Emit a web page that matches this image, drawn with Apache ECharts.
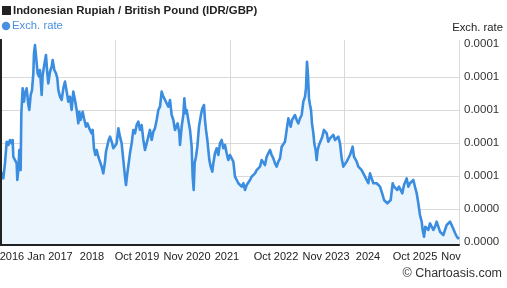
<!DOCTYPE html>
<html><head><meta charset="utf-8">
<script src="https://cdn.jsdelivr.net/npm/echarts@6/dist/echarts.min.js"></script>
<style>html,body{margin:0;padding:0;background:#fff}#c{width:507px;height:288px}</style>
</head><body><div id="c"></div>
<script>
// Decimal-year positions of the readings
const years = [
 2015.880, 2015.931, 2015.967, 2016.004, 2016.040, 2016.076, 2016.113, 2016.135, 2016.149, 2016.186,
 2016.222, 2016.236, 2016.258, 2016.280, 2016.309, 2016.324, 2016.353, 2016.382, 2016.404, 2016.440,
 2016.477, 2016.498, 2016.528, 2016.557, 2016.586, 2016.600, 2016.622, 2016.659, 2016.680, 2016.710,
 2016.731, 2016.768, 2016.790, 2016.819, 2016.862, 2016.891, 2016.913, 2016.950, 2016.986, 2017.008,
 2017.044, 2017.081, 2017.110, 2017.132, 2017.168, 2017.204, 2017.241, 2017.277, 2017.314, 2017.350,
 2017.386, 2017.423, 2017.459, 2017.496, 2017.532, 2017.568, 2017.590, 2017.619, 2017.663, 2017.692,
 2017.736, 2017.765, 2017.808, 2017.838, 2017.859, 2017.881, 2017.910, 2017.940, 2017.969, 2018.005,
 2018.041, 2018.078, 2018.114, 2018.151, 2018.172, 2018.201, 2018.231, 2018.260, 2018.296, 2018.333,
 2018.369, 2018.405, 2018.442, 2018.478, 2018.514, 2018.551, 2018.587, 2018.609, 2018.638, 2018.667,
 2018.696, 2018.733, 2018.769, 2018.806, 2018.842, 2018.878, 2018.915, 2018.951, 2018.988, 2019.024,
 2019.060, 2019.097, 2019.133, 2019.170, 2019.206, 2019.242, 2019.279, 2019.315, 2019.352, 2019.388,
 2019.424, 2019.461, 2019.497, 2019.533, 2019.570, 2019.606, 2019.643, 2019.679, 2019.701, 2019.737,
 2019.774, 2019.788, 2019.825, 2019.861, 2019.883, 2019.912, 2019.934, 2019.970, 2020.007, 2020.043,
 2020.065, 2020.087, 2020.108, 2020.137, 2020.167, 2020.203, 2020.239, 2020.276, 2020.312, 2020.334,
 2020.356, 2020.385, 2020.429, 2020.458, 2020.494, 2020.516, 2020.552, 2020.589, 2020.625, 2020.661,
 2020.698, 2020.734, 2020.771, 2020.807, 2020.843, 2020.880, 2020.916, 2020.953, 2020.989, 2021.025,
 2021.062, 2021.098, 2021.135, 2021.171, 2021.207, 2021.244, 2021.280, 2021.317, 2021.353, 2021.389,
 2021.426, 2021.462, 2021.499, 2021.535, 2021.571, 2021.608, 2021.644, 2021.681, 2021.717, 2021.753,
 2021.790, 2021.826, 2021.863, 2021.899, 2021.935, 2021.972, 2022.008, 2022.045, 2022.081, 2022.117,
 2022.154, 2022.175, 2022.205, 2022.234, 2022.263, 2022.299, 2022.336, 2022.372, 2022.408, 2022.445,
 2022.481, 2022.518, 2022.539, 2022.561, 2022.583, 2022.605, 2022.627, 2022.649, 2022.670, 2022.700,
 2022.721, 2022.750, 2022.772, 2022.794, 2022.823, 2022.860, 2022.896, 2022.932, 2022.969, 2022.991,
 2023.027, 2023.063, 2023.100, 2023.136, 2023.173, 2023.209, 2023.245, 2023.282, 2023.318, 2023.355,
 2023.391, 2023.427, 2023.464, 2023.500, 2023.537, 2023.558, 2023.587, 2023.624, 2023.646, 2023.682,
 2023.718, 2023.755, 2023.791, 2023.828, 2023.864, 2023.900, 2023.937, 2023.973, 2024.010, 2024.046,
 2024.082, 2024.119, 2024.155, 2024.192, 2024.213, 2024.243, 2024.279, 2024.315, 2024.352, 2024.388,
 2024.410, 2024.432, 2024.461, 2024.497, 2024.533, 2024.570, 2024.606, 2024.643, 2024.679, 2024.715,
 2024.737, 2024.774, 2024.810, 2024.847, 2024.883, 2024.919, 2024.956, 2024.992, 2025.028, 2025.065,
 2025.087, 2025.116, 2025.145, 2025.174, 2025.210, 2025.247, 2025.283, 2025.320, 2025.356, 2025.392,
 2025.429, 2025.465, 2025.502, 2025.538, 2025.574, 2025.611, 2025.647, 2025.684, 2025.705, 2025.749,
 2025.793, 2025.837, 2025.880
];
// IDR/GBP exchange rate readings
const rates = [
 5.033e-5, 4.982e-5, 5.096e-5, 5.260e-5, 5.235e-5, 5.273e-5, 5.247e-5, 5.273e-5, 5.146e-5, 5.134e-5,
 5.096e-5, 4.970e-5, 5.045e-5, 5.197e-5, 5.045e-5, 5.475e-5, 5.664e-5, 5.563e-5, 5.626e-5, 5.664e-5,
 5.538e-5, 5.500e-5, 5.614e-5, 5.651e-5, 5.778e-5, 5.929e-5, 5.992e-5, 5.980e-5, 5.778e-5, 5.753e-5,
 5.803e-5, 5.614e-5, 5.765e-5, 5.828e-5, 5.917e-5, 5.778e-5, 5.702e-5, 5.790e-5, 5.828e-5, 5.879e-5,
 5.803e-5, 5.778e-5, 5.740e-5, 5.651e-5, 5.601e-5, 5.576e-5, 5.664e-5, 5.715e-5, 5.639e-5, 5.563e-5,
 5.601e-5, 5.500e-5, 5.639e-5, 5.576e-5, 5.500e-5, 5.399e-5, 5.487e-5, 5.424e-5, 5.487e-5, 5.437e-5,
 5.374e-5, 5.399e-5, 5.361e-5, 5.374e-5, 5.323e-5, 5.349e-5, 5.210e-5, 5.159e-5, 5.197e-5, 5.146e-5,
 5.109e-5, 5.071e-5, 5.020e-5, 5.109e-5, 5.184e-5, 5.197e-5, 5.273e-5, 5.298e-5, 5.260e-5, 5.210e-5,
 5.222e-5, 5.247e-5, 5.361e-5, 5.298e-5, 5.247e-5, 5.121e-5, 4.995e-5, 4.932e-5, 5.020e-5, 5.096e-5,
 5.172e-5, 5.247e-5, 5.349e-5, 5.323e-5, 5.386e-5, 5.412e-5, 5.349e-5, 5.386e-5, 5.273e-5, 5.197e-5,
 5.247e-5, 5.298e-5, 5.349e-5, 5.273e-5, 5.336e-5, 5.361e-5, 5.424e-5, 5.500e-5, 5.525e-5, 5.639e-5,
 5.601e-5, 5.576e-5, 5.588e-5, 5.525e-5, 5.576e-5, 5.462e-5, 5.424e-5, 5.349e-5, 5.361e-5, 5.399e-5,
 5.323e-5, 5.235e-5, 5.374e-5, 5.462e-5, 5.588e-5, 5.475e-5, 5.500e-5, 5.424e-5, 5.349e-5, 5.222e-5,
 4.995e-5, 4.894e-5, 5.096e-5, 5.146e-5, 5.222e-5, 5.374e-5, 5.450e-5, 5.513e-5, 5.538e-5, 5.424e-5,
 5.349e-5, 5.273e-5, 5.121e-5, 5.071e-5, 5.033e-5, 5.096e-5, 5.172e-5, 5.210e-5, 5.159e-5, 5.247e-5,
 5.273e-5, 5.210e-5, 5.235e-5, 5.172e-5, 5.121e-5, 5.159e-5, 5.134e-5, 5.109e-5, 4.995e-5, 4.982e-5,
 4.945e-5, 4.957e-5, 4.919e-5, 4.945e-5, 4.894e-5, 4.932e-5, 4.945e-5, 4.970e-5, 4.995e-5, 4.982e-5,
 5.020e-5, 5.045e-5, 5.033e-5, 5.071e-5, 5.121e-5, 5.109e-5, 5.083e-5, 5.146e-5, 5.172e-5, 5.197e-5,
 5.159e-5, 5.134e-5, 5.096e-5, 5.071e-5, 5.109e-5, 5.134e-5, 5.222e-5, 5.235e-5, 5.260e-5, 5.349e-5,
 5.437e-5, 5.450e-5, 5.374e-5, 5.424e-5, 5.412e-5, 5.462e-5, 5.424e-5, 5.399e-5, 5.437e-5, 5.462e-5,
 5.563e-5, 5.601e-5, 5.664e-5, 5.866e-5, 5.765e-5, 5.588e-5, 5.538e-5, 5.500e-5, 5.399e-5, 5.323e-5,
 5.247e-5, 5.197e-5, 5.121e-5, 5.197e-5, 5.235e-5, 5.222e-5, 5.298e-5, 5.349e-5, 5.361e-5, 5.323e-5,
 5.260e-5, 5.285e-5, 5.298e-5, 5.311e-5, 5.273e-5, 5.285e-5, 5.298e-5, 5.247e-5, 5.134e-5, 5.071e-5,
 5.058e-5, 5.109e-5, 5.121e-5, 5.159e-5, 5.197e-5, 5.222e-5, 5.146e-5, 5.134e-5, 5.109e-5, 5.071e-5,
 5.083e-5, 5.045e-5, 5.033e-5, 4.995e-5, 4.982e-5, 4.945e-5, 5.020e-5, 4.982e-5, 4.945e-5, 4.957e-5,
 4.945e-5, 4.932e-5, 4.919e-5, 4.907e-5, 4.856e-5, 4.818e-5, 4.806e-5, 4.793e-5, 4.793e-5, 4.818e-5,
 4.881e-5, 4.945e-5, 4.919e-5, 4.932e-5, 4.894e-5, 4.919e-5, 4.932e-5, 4.869e-5, 4.932e-5, 4.945e-5,
 4.982e-5, 4.919e-5, 4.945e-5, 4.957e-5, 4.970e-5, 4.919e-5, 4.869e-5, 4.793e-5, 4.705e-5, 4.654e-5,
 4.591e-5, 4.540e-5, 4.616e-5, 4.629e-5, 4.591e-5, 4.641e-5, 4.629e-5, 4.591e-5, 4.616e-5, 4.654e-5,
 4.616e-5, 4.578e-5, 4.566e-5, 4.553e-5, 4.591e-5, 4.629e-5, 4.641e-5, 4.654e-5, 4.667e-5, 4.606e-5,
 4.568e-5, 4.538e-5, 4.523e-5
];
// Axis tick values / labels
const yTicks = [4.5e-5, 4.75e-5, 5.0e-5, 5.25e-5, 5.5e-5, 5.75e-5, 6.0e-5];
const xLabelPos = [2016.120, 2016.950, 2017.867, 2018.849, 2019.941, 2020.814, 2021.884, 2022.976, 2023.893, 2024.919, 2025.705];
const xLabels = ['2016', 'Jan 2017', '2018', 'Oct 2019', 'Nov 2020', '2021', 'Oct 2022', 'Nov 2023', '2024', 'Oct 2025', 'Nov'];

const FF = '"Liberation Sans", Arial, Helvetica, sans-serif';
const Y_MIN = 4.4773e-5, Y_MAX = 6.0303e-5;
const X_MIN = 2015.88, X_MAX = 2025.88;

const chart = echarts.init(document.getElementById('c'), null, {renderer: 'canvas'});
const axisLineStyle = {color: '#222', width: 2};
chart.setOption({
  animation: false,
  backgroundColor: '#fff',
  grid: {left: 1, right: 48, top: 40, bottom: 43, containLabel: false, outerBoundsMode: 'none'},
  xAxis: [
    {
      type: 'value', min: X_MIN, max: X_MAX, position: 'bottom', z: 3,
      axisLine: {show: true, onZero: false, lineStyle: axisLineStyle},
      axisTick: {show: false},
      splitLine: {show: false},
      axisLabel: {
        customValues: xLabelPos,
        margin: 6, color: '#222', fontSize: 11, fontFamily: FF,
        formatter: function (v) {
          let best = 0, d = Infinity;
          xLabelPos.forEach((p, i) => { if (Math.abs(p - v) < d) { d = Math.abs(p - v); best = i; } });
          return xLabels[best];
        }
      }
    },
    {
      type: 'value', min: 0, max: 4, interval: 1, position: 'top', z: 0,
      axisLine: {show: false}, axisTick: {show: false}, axisLabel: {show: false},
      splitLine: {show: true, lineStyle: {color: '#d9d9d9', width: 1}}
    }
  ],
  yAxis: [
    {
      type: 'value', min: Y_MIN, max: Y_MAX, position: 'right', z: 3,
      axisLine: {show: true, lineStyle: axisLineStyle},
      axisTick: {show: false},
      splitLine: {show: false},
      axisLabel: {
        customValues: yTicks, margin: 5, color: '#333', fontSize: 11.5, fontFamily: FF,
        formatter: v => v.toFixed(4)
      }
    },
    {
      type: 'value', min: Y_MIN, max: Y_MAX, position: 'left', z: 3,
      axisLine: {show: true, onZero: false, lineStyle: axisLineStyle},
      axisTick: {show: false}, axisLabel: {show: false}, splitLine: {show: false}
    },
    {
      type: 'value', min: Y_MIN, max: Y_MAX, position: 'right', z: 0,
      axisLine: {show: false},
      axisTick: {show: false, customValues: yTicks.slice(1, -1)},
      axisLabel: {show: false, customValues: yTicks.slice(1, -1)},
      splitLine: {show: true, lineStyle: {color: '#d9d9d9', width: 1}}
    }
  ],
  series: [{
    type: 'line',
    xAxisIndex: 0, yAxisIndex: 0,
    data: years.map((y, i) => [y, rates[i]]),
    showSymbol: false, symbol: 'none',
    lineStyle: {color: '#3b8de0', width: 2.6, join: 'round'},
    areaStyle: {color: '#ebf5fe', opacity: 1},
    z: 2
  }],
  graphic: [
    {type: 'rect', shape: {x: 2, y: 6, width: 9, height: 9}, style: {fill: '#222'}},
    {type: 'text', x: 13, y: 11, style: {text: 'Indonesian Rupiah / British Pound (IDR/GBP)', font: 'bold 11.4px ' + FF, fill: '#222', verticalAlign: 'middle', textVerticalAlign: 'middle'}},
    {type: 'circle', shape: {cx: 6, cy: 26, r: 4.2}, style: {fill: '#4a8fe0'}},
    {type: 'text', x: 12, y: 26, style: {text: 'Exch. rate', font: '11.3px ' + FF, fill: '#4a8fe0', verticalAlign: 'middle', textVerticalAlign: 'middle'}},
    {type: 'text', x: 503, y: 28, style: {text: 'Exch. rate', font: '11.3px ' + FF, fill: '#222', align: 'right', textAlign: 'right', verticalAlign: 'middle', textVerticalAlign: 'middle'}},
    {type: 'text', x: 502, y: 274, style: {text: '© Chartoasis.com', font: '12.5px ' + FF, fill: '#333', align: 'right', textAlign: 'right', verticalAlign: 'middle', textVerticalAlign: 'middle'}}
  ]
});
</script>
</body></html>
